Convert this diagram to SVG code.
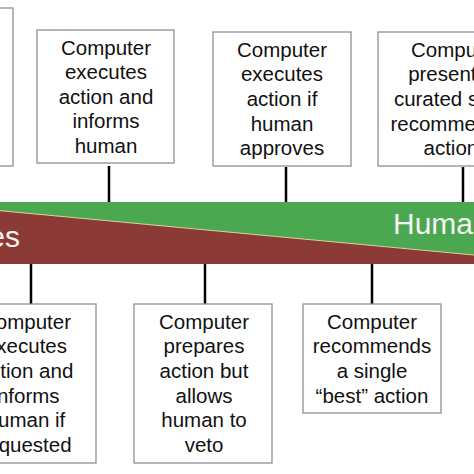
<svg xmlns="http://www.w3.org/2000/svg" width="474" height="474" viewBox="0 0 474 474">
<style>
.box{fill:#ffffff;stroke:#8e8e9c;stroke-width:1.3}
.t{font-family:"Liberation Sans",Arial,sans-serif;font-size:20.5px;fill:#111111;text-anchor:middle}
.band{font-family:"Liberation Sans",Arial,sans-serif;font-size:30px;fill:#f4f4f4}
.conn{stroke:#000000;stroke-width:2.5;fill:none}
</style>
<rect x="0" y="0" width="474" height="474" fill="#ffffff"/>
<g id="band">
<rect x="0" y="202" width="474" height="62" fill="#4ca751"/>
<polygon points="0,210.7 474,255 474,264 0,264" fill="#8b3a36"/>
<line x1="0" y1="210.7" x2="474" y2="255" stroke="#d6d3a0" stroke-width="1"/>
<text class="band" x="20" y="246.7" text-anchor="end">es</text>
<text class="band" x="393" y="234.3">Human</text>
</g>
<g id="connectors">
<line class="conn" x1="109" y1="166" x2="109" y2="202"/>
<line class="conn" x1="286" y1="167" x2="286" y2="202"/>
<line class="conn" x1="463" y1="167" x2="463" y2="202"/>
<line class="conn" x1="31" y1="264" x2="31" y2="304"/>
<line class="conn" x1="205" y1="264" x2="205" y2="304"/>
<line class="conn" x1="372" y1="264" x2="372" y2="304"/>
</g>
<g id="box0">
<rect class="box" x="-125" y="8" width="138" height="158"/>
</g>
<g id="box1">
<rect class="box" x="37" y="30" width="137" height="133"/>
<text class="t" x="106" y="54.5">Computer</text>
<text class="t" x="106" y="79.1">executes</text>
<text class="t" x="106" y="103.7">action and</text>
<text class="t" x="106" y="128.3">informs</text>
<text class="t" x="106" y="152.9">human</text>
</g>
<g id="box2">
<rect class="box" x="213" y="32" width="138" height="134"/>
<text class="t" x="282" y="56.7">Computer</text>
<text class="t" x="282" y="81.3">executes</text>
<text class="t" x="282" y="105.9">action if</text>
<text class="t" x="282" y="130.5">human</text>
<text class="t" x="282" y="155.1">approves</text>
</g>
<g id="box3">
<rect class="box" x="378" y="32" width="156" height="134"/>
<text class="t" x="456" y="56.7">Computer</text>
<text class="t" x="456" y="81.3">presents a</text>
<text class="t" x="456" y="105.9">curated set of</text>
<text class="t" x="456" y="130.5">recommended</text>
<text class="t" x="456" y="155.1">actions</text>
</g>
<g id="boxA">
<rect class="box" x="-44" y="304" width="140" height="159"/>
<text class="t" x="26" y="328.7">Computer</text>
<text class="t" x="26" y="353.3">executes</text>
<text class="t" x="26" y="377.9">action and</text>
<text class="t" x="26" y="402.5">informs</text>
<text class="t" x="26" y="427.1">human if</text>
<text class="t" x="26" y="451.7">requested</text>
</g>
<g id="boxB">
<rect class="box" x="134" y="304" width="138" height="159"/>
<text class="t" x="204" y="328.7">Computer</text>
<text class="t" x="204" y="353.3">prepares</text>
<text class="t" x="204" y="377.9">action but</text>
<text class="t" x="204" y="402.5">allows</text>
<text class="t" x="204" y="427.1">human to</text>
<text class="t" x="204" y="451.7">veto</text>
</g>
<g id="boxC">
<rect class="box" x="303" y="304" width="138" height="109"/>
<text class="t" x="372" y="328.7">Computer</text>
<text class="t" x="372" y="353.3">recommends</text>
<text class="t" x="372" y="377.9">a single</text>
<text class="t" x="372" y="402.5">“best” action</text>
</g>
</svg>
